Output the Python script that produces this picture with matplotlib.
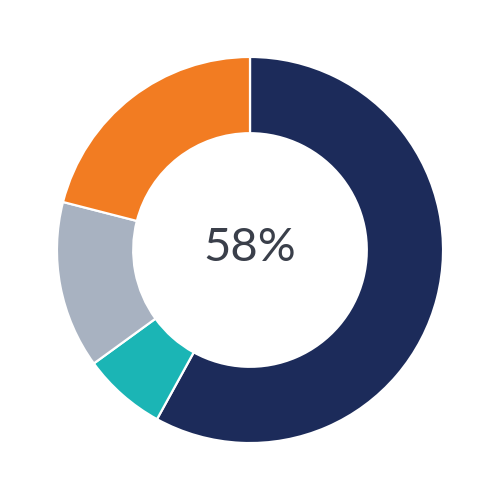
import matplotlib
matplotlib.use('Agg')
import matplotlib.pyplot as plt

labels = ['A', 'B', 'C', 'D']
values = [58, 7, 14, 21]
colors = ['#1c2b5a', '#1bb5b5', '#a8b2c1', '#f27c22']
center_label = '58%'

fig = plt.figure(figsize=(5, 5), dpi=100)
ax = fig.add_axes([0, 0, 1, 1])
ax.pie(values, colors=colors, startangle=90, counterclock=False,
       radius=1.0,
       wedgeprops=dict(width=0.395, edgecolor='white', linewidth=1.6))
ax.text(0, 0.01, center_label, ha='center', va='center',
        fontsize=34, color='#3a3f4a', family='Lato')
ax.set_xlim(-1.295, 1.295)
ax.set_ylim(-1.295, 1.295)
ax.set_aspect('equal')
ax.axis('off')
fig.savefig('out.png', dpi=100, facecolor='white')
